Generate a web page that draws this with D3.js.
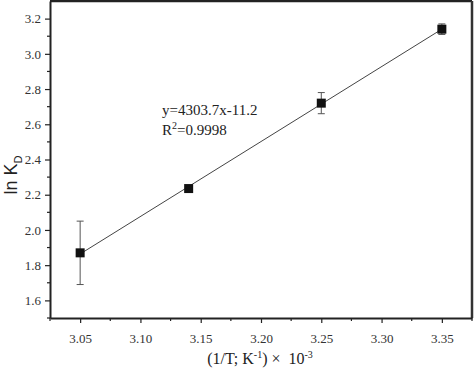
<!DOCTYPE html>
<html><head><meta charset="utf-8">
<script src="https://cdn.jsdelivr.net/npm/d3@7"></script>
<style>body{margin:0;background:#fff}svg{display:block}</style>
</head><body><svg id="c" width="474" height="370"></svg>
<script>
const xVals = [3.05, 3.14, 3.25, 3.35];
const yVals = [1.87, 2.235, 2.72, 3.14];
const yErr = [0.18, 0.015, 0.06, 0.03];
const xTicks = [3.05, 3.10, 3.15, 3.20, 3.25, 3.30, 3.35];
const yTicks = [1.6, 1.8, 2.0, 2.2, 2.4, 2.6, 2.8, 3.0, 3.2];
const eqText = "y=4303.7x-11.2";
const r2Text = "0.9998";

const svg = d3.select("#c");
const L = 50, R = 472, T = 1, B = 318;
const x = d3.scaleLinear().domain([3.025, 3.375]).range([L, R]);
const y = d3.scaleLinear().domain([1.5, 3.3]).range([B, T]);
const serif = "'Liberation Serif','Times New Roman',serif";

// frame top/right
svg.append("line").attr("x1", L).attr("x2", R).attr("y1", T).attr("y2", T).attr("stroke", "#222").attr("stroke-width", 2.5);
svg.append("line").attr("x1", R).attr("x2", R).attr("y1", T).attr("y2", B).attr("stroke", "#333").attr("stroke-width", 2.5);

// axes
const xMinor = d3.range(0, 8).map(i => 3.025 + i * 0.05);
const gx = svg.append("g").attr("transform", `translate(0,${B})`);
gx.call(d3.axisBottom(x).tickValues(xTicks).tickFormat(d3.format(".2f")).tickSize(5).tickSizeOuter(0));
gx.selectAll("g.minor").data(xMinor).enter().append("line")
  .attr("x1", d => x(d)).attr("x2", d => x(d)).attr("y1", 0).attr("y2", 3).attr("stroke", "#222").attr("stroke-width", 1.2);

const yMinor = d3.range(0, 9).map(i => 1.5 + i * 0.2);
const gy = svg.append("g").attr("transform", `translate(${L},0)`);
gy.call(d3.axisLeft(y).tickValues(yTicks).tickFormat(d3.format(".1f")).tickSize(5).tickSizeOuter(0));
gy.selectAll("g.minor").data(yMinor).enter().append("line")
  .attr("x1", 0).attr("x2", -3).attr("y1", d => y(d)).attr("y2", d => y(d)).attr("stroke", "#222").attr("stroke-width", 1.2);

[gx, gy].forEach(g => {
  g.select(".domain").attr("stroke", "#222").attr("stroke-width", 2);
  g.selectAll(".tick line").attr("stroke", "#222").attr("stroke-width", 1.2);
  g.selectAll(".tick text").attr("font-family", serif).attr("font-size", 13).attr("fill", "#333");
});
gx.selectAll(".tick text").attr("dy", "1.3em");
gy.selectAll(".tick text").attr("x", -9);

// regression line computed from data
const mx = d3.mean(xVals), my = d3.mean(yVals);
const sxy = d3.sum(xVals.map((v, i) => (v - mx) * (yVals[i] - my)));
const sxx = d3.sum(xVals.map(v => (v - mx) ** 2));
const slope = sxy / sxx, icpt = my - slope * mx;
const x0 = d3.min(xVals), x1 = d3.max(xVals);
svg.append("line").attr("x1", x(x0)).attr("y1", y(icpt + slope * x0))
  .attr("x2", x(x1)).attr("y2", y(icpt + slope * x1))
  .attr("stroke", "#444").attr("stroke-width", 1);

// error bars
const eb = svg.append("g").attr("stroke", "#555").attr("stroke-width", 1);
xVals.forEach((xv, i) => {
  const cx = x(xv), yt = y(yVals[i] + yErr[i]), yb = y(yVals[i] - yErr[i]);
  eb.append("line").attr("x1", cx).attr("x2", cx).attr("y1", yt).attr("y2", yb);
  eb.append("line").attr("x1", cx - 3.5).attr("x2", cx + 3.5).attr("y1", yt).attr("y2", yt);
  eb.append("line").attr("x1", cx - 3.5).attr("x2", cx + 3.5).attr("y1", yb).attr("y2", yb);
});

// markers
svg.selectAll("rect.pt").data(xVals).enter().append("rect")
  .attr("x", d => x(d) - 4.5).attr("y", (d, i) => y(yVals[i]) - 4.5)
  .attr("width", 9).attr("height", 9).attr("fill", "#111");

// equation text
svg.append("text").attr("x", 162).attr("y", 115).attr("font-family", serif).attr("font-size", 15).attr("fill", "#222").text(eqText);
const r2 = svg.append("text").attr("x", 162).attr("y", 135).attr("font-family", serif).attr("font-size", 15).attr("fill", "#222");
r2.append("tspan").text("R");
r2.append("tspan").attr("font-size", 10).attr("dy", -6).text("2");
r2.append("tspan").attr("dy", 6).text("=" + r2Text);

// axis titles
const xt = svg.append("text").attr("x", 260).attr("y", 364).attr("text-anchor", "middle")
  .attr("font-family", serif).attr("font-size", 16).attr("fill", "#222");
xt.append("tspan").text("(1/T; K");
xt.append("tspan").attr("font-size", 10).attr("dy", -6).text("-1");
xt.append("tspan").attr("dy", 6).text(") \u00d7\u00a0\u00a010");
xt.append("tspan").attr("font-size", 10).attr("dy", -6).text("-3");

const yt = svg.append("text").attr("transform", "translate(17,175) rotate(-90)").attr("text-anchor", "middle")
  .attr("font-family", "'Liberation Sans',Arial,sans-serif").attr("font-size", 18).attr("fill", "#222");
yt.append("tspan").text("ln K");
yt.append("tspan").attr("font-size", 11).attr("dy", 5).text("D");
</script></body></html>
